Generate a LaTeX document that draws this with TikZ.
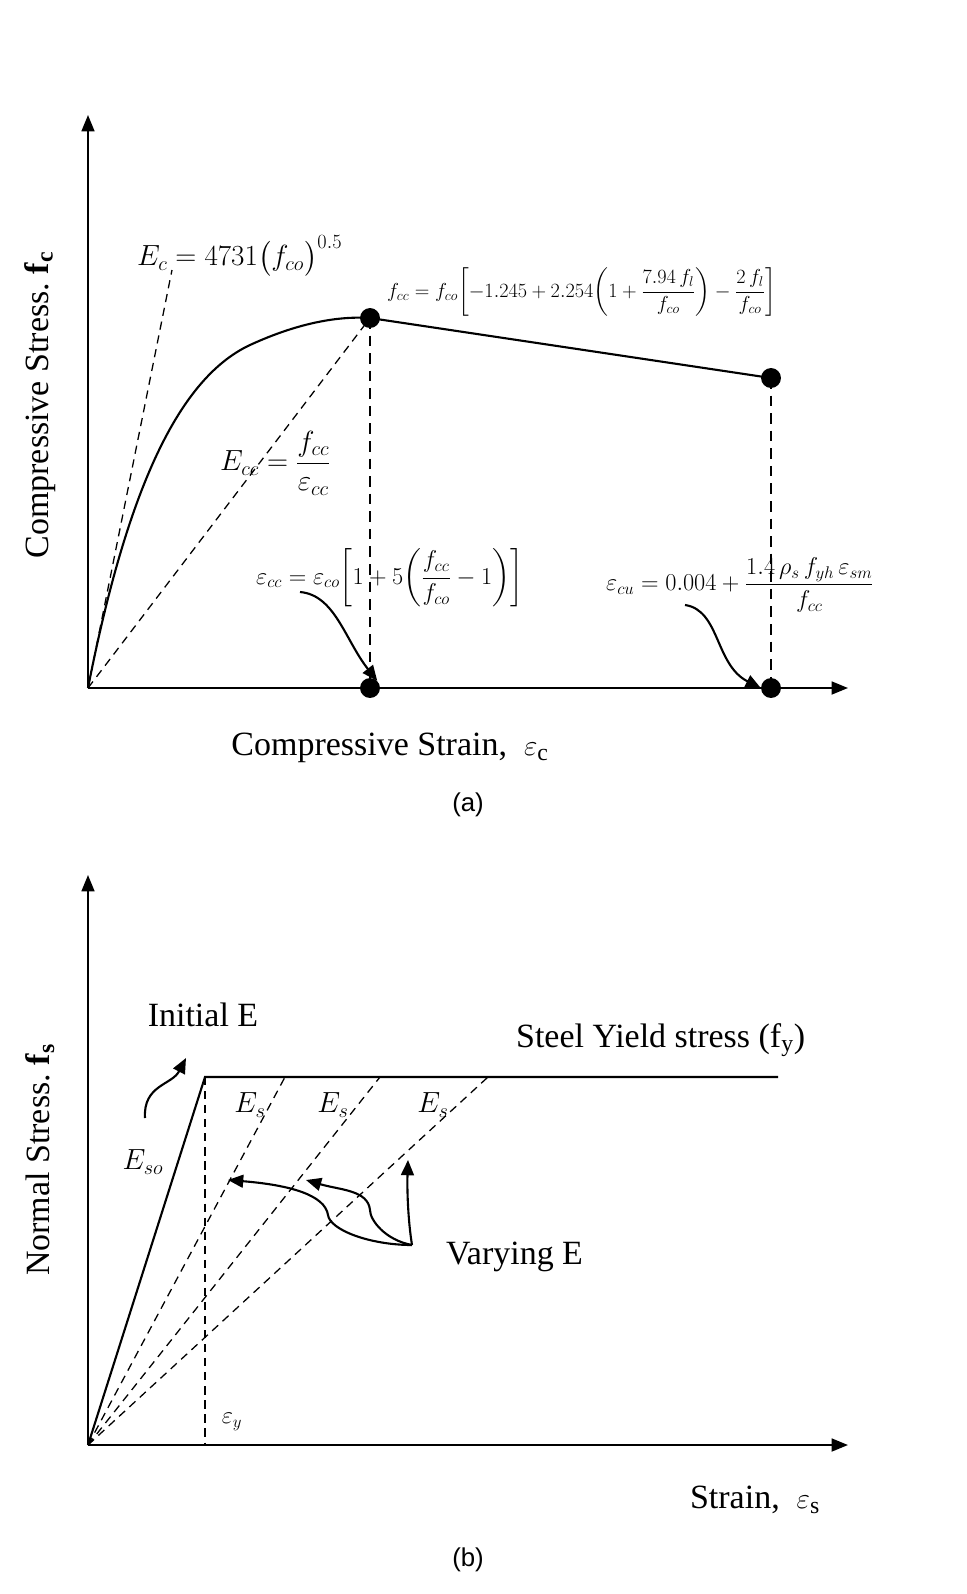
\documentclass[tikz,border=0pt]{standalone}
\usepackage{amsmath}
\usepackage{fontspec}
\setmainfont{Liberation Serif}
\newfontfamily\sansf{Liberation Sans}
\usetikzlibrary{arrows.meta}
\begin{document}
\begin{tikzpicture}[x=0.03cm,y=-0.03cm,
  axis/.style={line width=1.8pt,-{Triangle[length=14pt,width=11pt]}},
  solidl/.style={line width=1.8pt},
  dashl/.style={line width=1.1pt,dash pattern=on 7pt off 5pt},
  dashv/.style={line width=1.8pt,dash pattern=on 9pt off 6pt},
  dot/.style={circle,fill=black,inner sep=0pt,minimum size=17pt},
  curv/.style={line width=1.8pt,-{Triangle[length=13pt,width=11pt]}},
  big/.style={font=\fontsize{29}{34}\selectfont},
  mid/.style={font=\fontsize{26}{30}\selectfont},
  sm/.style={font=\fontsize{18}{21}\selectfont}]
\useasboundingbox (0,0) rectangle (966,1594);
% ---------- (a)
\coordinate (O) at (88,688);
\coordinate (Ytop) at (88,115);
\coordinate (Xend) at (848,688);
\draw[axis] (O) -- (Ytop);
\draw[axis] (O) -- (Xend);
\node[dot] (P) at (370,318) {};
\node[dot] (Q) at (771,378) {};
\node[dot] (Pb) at (370,688) {};
\node[dot] (Qb) at (771,688) {};
\draw[solidl] (O) .. controls (125,500) and (175,380) .. (250,345) .. controls (300,322) and (340,316) .. (P.center);
\draw[solidl] (P.center) -- (Q.center);
\coordinate (Ectop) at (172,270);
\draw[dashl] (O) -- (Ectop);
\draw[dashl] (O) -- (P.center);
\draw[dashv] (P.center) -- (Pb.center);
\draw[dashv] (Q.center) -- (Qb.center);
\node[mid,anchor=west] (Ec) at (133,256) {$E_c = 4731\bigl(f_{co}\bigr)^{0.5}$};
\node[sm,anchor=west] (fcc) at (383,292) {$f_{cc} = f_{co}\!\left[-1.245+2.254\!\left(1+\dfrac{7.94\,f_l}{f_{co}}\right)-\dfrac{2\,f_l}{f_{co}}\right]$};
\node[mid,anchor=west] (Ecc) at (216,463) {$E_{cc}=\dfrac{f_{cc}}{\varepsilon_{cc}}$};
\node[font=\fontsize{21}{25}\selectfont,anchor=west] (ecc) at (252,578) {$\varepsilon_{cc}=\varepsilon_{co}\!\left[1+5\!\left(\dfrac{f_{cc}}{f_{co}}-1\right)\right]$};
\node[font=\fontsize{22}{25}\selectfont,anchor=west] (ecu) at (602,585) {$\varepsilon_{cu}=0.004+\dfrac{1.4\,\rho_s\,f_{yh}\,\varepsilon_{sm}}{f_{cc}}$};
\coordinate (a1s) at (300,592);
\coordinate (a2s) at (685,605);
\draw[curv] (a1s) .. controls (335,595) and (345,640) .. (Pb.north east);
\draw[curv] (a2s) .. controls (720,610) and (715,665) .. (Qb.west);
\node[big,rotate=90] (ylA) at (40,405) {Compressive Stress.\ \textbf{f}\textsubscript{\textbf{c}}};
\node[big] (xlA) at (390,748) {Compressive Strain,\ \ $\varepsilon$\textsubscript{c}};
\node[font=\sansf\fontsize{22}{26}\selectfont] (la) at (468,805) {(a)};
% ---------- (b)
\coordinate (O2) at (88,1445);
\coordinate (Ytop2) at (88,875);
\coordinate (Xend2) at (848,1445);
\draw[axis] (O2) -- (Ytop2);
\draw[axis] (O2) -- (Xend2);
\coordinate (Y1) at (205,1077);
\coordinate (Y2) at (778,1077);
\coordinate (Ey) at (205,1445);
\coordinate (D1) at (285,1077);
\coordinate (D2) at (380,1077);
\coordinate (D3) at (488,1077);
\draw[solidl] (O2) -- (Y1) -- (Y2);
\draw[dashl] (Y1) -- (Ey);
\draw[dashl] (O2) -- (D1);
\draw[dashl] (O2) -- (D2);
\draw[dashl] (O2) -- (D3);
\node[mid] (Es1) at (250,1105) {$E_s$};
\node[mid] (Es2) at (333,1105) {$E_s$};
\node[mid] (Es3) at (433,1105) {$E_s$};
\node[mid] (Eso) at (143,1162) {$E_{so}$};
\node[big] (IE) at (203,1015) {Initial E};
\draw[curv] (145,1118) coordinate (e0) .. controls (143,1085) and (172,1085) .. (186,1058);
\node[big,anchor=west] (SY) at (512,1040) {Steel Yield stress (f\textsubscript{y})};
\node[big,anchor=west] (VE) at (442,1257) {Varying E};
\coordinate (vs) at (412,1245);
\coordinate (t1) at (228,1180);
\coordinate (t2) at (306,1180);
\coordinate (t3) at (408,1160);
\draw[curv] (vs) .. controls (370,1245) and (330,1230) .. (328,1215) .. controls (325,1195) and (290,1185) .. (t1);
\draw[curv] (vs) .. controls (385,1240) and (370,1220) .. (370,1210) .. controls (368,1190) and (340,1190) .. (t2);
\draw[curv] (vs) .. controls (408,1220) and (407,1190) .. (t3);
\node[font=\fontsize{22}{26}\selectfont] (ey) at (232,1422) {$\varepsilon_y$};
\node[big] (xlB) at (755,1500) {Strain,\ \ $\varepsilon$\textsubscript{s}};
\node[big,rotate=90] (ylB) at (40,1160) {Normal Stress.\ \textbf{f}\textsubscript{\textbf{s}}};
\node[font=\sansf\fontsize{22}{26}\selectfont] (lb) at (468,1560) {(b)};
\end{tikzpicture}
\end{document}
